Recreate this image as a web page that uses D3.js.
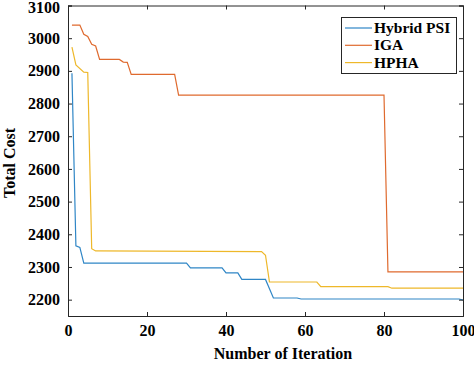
<!DOCTYPE html>
<html><head><meta charset="utf-8">
<script src="https://cdn.jsdelivr.net/npm/d3@7"></script>
<style>body{margin:0;background:#fff}svg{display:block}</style>
</head><body><svg id="c" width="474" height="365"></svg>
<script>
const seriesNames = ["Hybrid PSI", "IGA", "HPHA"];
const psiIter = [1, 2, 3, 4, 30, 31, 39, 40, 43, 44, 50, 52, 58, 59, 99, 100];
const psiCost = [2893, 2365, 2360, 2312, 2312, 2297, 2297, 2282, 2282, 2262, 2262, 2205, 2205, 2202, 2202, 2199];
const igaIter = [1, 3, 4, 5, 6, 7, 8, 13, 14, 15, 16, 27, 28, 80, 81, 100];
const igaCost = [3040, 3040, 3012, 3005, 2981, 2976, 2935, 2935, 2927, 2926, 2889, 2889, 2826, 2826, 2285, 2285];
const hphaIter = [1, 2, 4, 5, 6, 7, 49, 50, 51, 63, 64, 81, 82, 100];
const hphaCost = [2973, 2918, 2896, 2895, 2356, 2349, 2347, 2336, 2254, 2254, 2240, 2240, 2235, 2235];
const xTicks = [0, 20, 40, 60, 80, 100];
const yTicks = [2200, 2300, 2400, 2500, 2600, 2700, 2800, 2900, 3000, 3100];
const colors = ["#2f86c6", "#df6a2e", "#eeb82a"];

(function () {
const svg = d3.select("#c");
const L = 68, R = 463, T = 5.5, B = 316;
const x = d3.scaleLinear().domain([0, 100]).range([L, R]);
const y = d3.scaleLinear().domain([2150, 3100]).range([B, T]);
const font = "'Liberation Serif','Times New Roman',serif";
const fmt = d3.format("d");

const data = [
  psiIter.map((d, i) => [d, psiCost[i]]),
  igaIter.map((d, i) => [d, igaCost[i]]),
  hphaIter.map((d, i) => [d, hphaCost[i]])
];

const line = d3.line().x(d => x(d[0])).y(d => y(d[1]));
[2, 1, 0].forEach(k => {
  svg.append("path").attr("d", line(data[k])).attr("fill", "none")
    .attr("stroke", colors[k]).attr("stroke-width", 1.2);
});

const tl = 4;
const axB = d3.axisBottom(x).tickValues(xTicks).tickFormat(fmt).tickSize(-tl).tickPadding(9);
const axT = d3.axisTop(x).tickValues(xTicks).tickSize(-tl).tickFormat("");
const axL = d3.axisLeft(y).tickValues(yTicks).tickFormat(fmt).tickSize(-tl).tickPadding(8);
const axR = d3.axisRight(y).tickValues(yTicks).tickSize(-tl).tickFormat("");
function style(g) {
  g.selectAll("path.domain").attr("stroke", "#262626").attr("stroke-width", 1);
  g.selectAll(".tick line").attr("stroke", "#262626");
  g.selectAll("text").attr("font-family", font).attr("font-weight", "bold")
    .attr("font-size", 16).attr("fill", "#000");
}
svg.append("g").attr("transform", `translate(0,${B})`).call(axB).call(style);
svg.append("g").attr("transform", `translate(0,${T})`).call(axT).call(style);
const gl = svg.append("g").attr("transform", `translate(${L},0)`).call(axL).call(style);
gl.selectAll(".tick text").filter(d => d === 3100).attr("dy", "0.45em");
svg.append("g").attr("transform", `translate(${R},0)`).call(axR).call(style);

svg.append("text").attr("x", 283).attr("y", 359).attr("text-anchor", "middle")
  .attr("font-family", font).attr("font-weight", "bold").attr("font-size", 16)
  .text("Number of Iteration");
svg.append("text").attr("transform", "translate(15,163) rotate(-90)").attr("text-anchor", "middle")
  .attr("font-family", font).attr("font-weight", "bold").attr("font-size", 16)
  .text("Total Cost");

const lg = svg.append("g");
lg.append("rect").attr("x", 341.5).attr("y", 17.5).attr("width", 115).attr("height", 56)
  .attr("fill", "#fff").attr("stroke", "#262626").attr("stroke-width", 1);
seriesNames.forEach((n, i) => {
  const yy = 28 + i * 17.3;
  lg.append("line").attr("x1", 345).attr("x2", 372).attr("y1", yy).attr("y2", yy)
    .attr("stroke", colors[i]).attr("stroke-width", 1.2);
  lg.append("text").attr("x", 374).attr("y", yy + 5).attr("font-family", font)
    .attr("font-weight", "bold").attr("font-size", 15.5).text(n);
});
})();
</script></body></html>
